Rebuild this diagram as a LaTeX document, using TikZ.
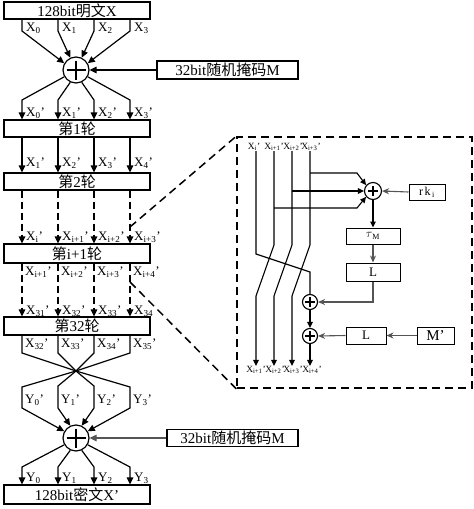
\documentclass[tikz,border=0pt]{standalone}
\usepackage{fontspec}
\setmainfont{Liberation Serif}
\newfontfamily\cjk{Noto Sans CJK SC}
\usetikzlibrary{arrows.meta,calc}
\definecolor{gline}{HTML}{555555}
\begin{document}
\begin{tikzpicture}[x=1pt,y=-1pt,
  box/.style={draw,line width=1.1pt,minimum height=17pt,inner sep=0pt,font=\fontsize{15}{15}\selectfont},
  sbox/.style={draw,line width=1pt,inner sep=0pt},
  ln/.style={line width=1.2pt},
  arr/.style={line width=1.2pt,-{Triangle[length=7pt,width=6.5pt]}},
  darr/.style={arr,dash pattern=on 7pt off 4pt},
  sarr/.style={line width=1.1pt,-{Triangle[length=6pt,width=5.5pt]}},
  garr/.style={line width=1.1pt,draw=gline,-{Stealth[length=7pt,width=6pt]}},
  lab/.style={anchor=west,inner sep=0pt,font=\fontsize{13}{13}\selectfont},
  slab/.style={inner sep=0pt,font=\fontsize{9.5}{9.5}\selectfont},
  bigxor/.style={circle,draw,line width=1.2pt,minimum size=26pt,inner sep=0pt,
    path picture={\draw[line width=2.6pt] ($(path picture bounding box.center)+(-9.5,0)$) -- ++(19,0);
                  \draw[line width=2.6pt] ($(path picture bounding box.center)+(0,-9.5)$) -- ++(0,19);}},
  smxor/.style={circle,draw,line width=1.1pt,minimum size=15pt,inner sep=0pt,
    path picture={\draw[line width=1.1pt] ($(path picture bounding box.center)+(-5,0)$) -- ++(10,0);
                  \draw[line width=1.1pt] ($(path picture bounding box.center)+(0,-5)$) -- ++(0,10);}},
  zdash/.style={line width=1.5pt,dash pattern=on 8pt off 5pt}
]
\useasboundingbox (0,0) rectangle (474,509);
\coordinate (k0) at (22,0);
\coordinate (k1) at (58,0);
\coordinate (k2) at (94,0);
\coordinate (k3) at (130,0);

% boxes
\node[box,minimum width=146pt] (top) at (77,10.5) {128bit{\cjk 明文}X};
\node[bigxor] (c1) at (76,70) {};
\node[box,minimum width=141pt,minimum height=18pt] (m1) at (227.5,70) {32bit{\cjk 随机掩码}M};
\node[box,minimum width=146pt] (r1) at (77,128.5) {{\cjk 第}1{\cjk 轮}};
\node[box,minimum width=146pt] (r2) at (77,181.5) {{\cjk 第}2{\cjk 轮}};
\node[box,minimum width=146pt,minimum height=19pt] (ri) at (77,253.5) {{\cjk 第}i+1{\cjk 轮}};
\node[box,minimum width=146pt,minimum height=18pt] (r32) at (77,326) {{\cjk 第}32{\cjk 轮}};
\node[bigxor] (c2) at (76,438) {};
\node[box,minimum width=131pt,minimum height=17pt] (m2) at (232.5,438) {32bit{\cjk 随机掩码}M};
\node[box,minimum width=146pt,minimum height=19pt] (bot) at (77,494.5) {128bit{\cjk 密文}X'};

% top inputs
\draw[arr] (top.south -| k0) -- (22,31) -- (c1.150);
\draw[arr] (top.south -| k1) -- (58,31) -- (c1.115);
\draw[arr] (top.south -| k2) -- (94,31) -- (c1.65);
\draw[arr] (top.south -| k3) -- (130,31) -- (c1.30);
\node[lab] (t0) at (26,28) {X\textsubscript{0}};
\node[lab] (t1) at (62,28) {X\textsubscript{1}};
\node[lab] (t2) at (98,28) {X\textsubscript{2}};
\node[lab] (t3) at (134,28) {X\textsubscript{3}};
\draw[arr] (m1.west) -- (c1.east);

% outputs of first xor
\draw[arr] (c1.-150) -- (22,100) -- (r1.north -| k0);
\draw[arr] (c1.-115) -- (58,100) -- (r1.north -| k1);
\draw[arr] (c1.-65) -- (94,100) -- (r1.north -| k2);
\draw[arr] (c1.-30) -- (130,100) -- (r1.north -| k3);
\node[lab] at (26,113) {X\textsubscript{0}'};
\node[lab] at (62,113) {X\textsubscript{1}'};
\node[lab] at (98,113) {X\textsubscript{2}'};
\node[lab] at (134,113) {X\textsubscript{3}'};

% round 1 -> round 2
\foreach \k in {k0,k1,k2,k3}{\draw[arr] (r1.south -| \k) -- (r2.north -| \k);}
\node[lab] at (26,163) {X\textsubscript{1}'};
\node[lab] at (62,163) {X\textsubscript{2}'};
\node[lab] at (98,163) {X\textsubscript{3}'};
\node[lab] at (134,163) {X\textsubscript{4}'};

% round 2 -> round i+1
\foreach \k in {k0,k1,k2,k3}{\draw[darr] (r2.south -| \k) -- (ri.north -| \k);}
\node[lab] at (26,237) {X\textsubscript{i}'};
\node[lab] at (62,237) {X\textsubscript{i+1}'};
\node[lab] at (98,237) {X\textsubscript{i+2}'};
\node[lab] at (134,237) {X\textsubscript{i+3}'};

% round i+1 -> round 32
\foreach \k in {k0,k1,k2,k3}{\draw[darr] (ri.south -| \k) -- (r32.north -| \k);}
\node[lab] at (25,272) {X\textsubscript{i+1}'};
\node[lab] at (61,272) {X\textsubscript{i+2}'};
\node[lab] at (97,272) {X\textsubscript{i+3}'};
\node[lab] at (133,272) {X\textsubscript{i+4}'};
\node[lab] at (26,311) {X\textsubscript{31}'};
\node[lab] at (62,311) {X\textsubscript{32}'};
\node[lab] at (98,311) {X\textsubscript{33}'};
\node[lab] at (134,311) {X\textsubscript{34}};

% round 32 -> crossing -> second xor
\coordinate (cross) at (76,371);
\draw[ln] (r32.south -| k0) -- (22,353) -- (cross);
\draw[ln] (r32.south -| k1) -- (58,353) -- (cross);
\draw[ln] (r32.south -| k2) -- (94,353) -- (cross);
\draw[ln] (r32.south -| k3) -- (130,353) -- (cross);
\node[lab] at (25,344) {X\textsubscript{32}'};
\node[lab] at (61,344) {X\textsubscript{33}'};
\node[lab] at (97,344) {X\textsubscript{34}'};
\node[lab] at (133,344) {X\textsubscript{35}'};
\draw[arr] (cross) -- (22,387) -- (22,408) -- (c2.150);
\draw[arr] (cross) -- (58,386) -- (58,408) -- (c2.115);
\draw[arr] (cross) -- (94,386) -- (94,408) -- (c2.65);
\draw[arr] (cross) -- (130,387) -- (130,408) -- (c2.30);
\node[lab] at (25,400) {Y\textsubscript{0}'};
\node[lab] at (61,400) {Y\textsubscript{1}'};
\node[lab] at (97,400) {Y\textsubscript{2}'};
\node[lab] at (133,400) {Y\textsubscript{3}'};
\draw[arr,draw=gline] (m2.west) -- (c2.east);

% outputs
\draw[arr] (c2.-150) -- (22,467) -- (bot.north -| k0);
\draw[arr] (c2.-115) -- (58,467) -- (bot.north -| k1);
\draw[arr] (c2.-65) -- (94,467) -- (bot.north -| k2);
\draw[arr] (c2.-30) -- (130,467) -- (bot.north -| k3);
\node[lab] at (26,478) {Y\textsubscript{0}};
\node[lab] at (62,478) {Y\textsubscript{1}};
\node[lab] at (98,478) {Y\textsubscript{2}};
\node[lab] at (134,478) {Y\textsubscript{3}};

% zoom box
\node[draw,zdash,minimum width=235pt,minimum height=251pt,inner sep=0pt] (zb) at (354.5,262.5) {};
\coordinate (zs1) at (130,227);
\coordinate (zs2) at (130,282);
\draw[zdash] (zs1) -- (zb.north west);
\draw[zdash] (zs2) -- (zb.south west);

% inside
\coordinate (z0) at (256,0);
\coordinate (z1) at (274,0);
\coordinate (z2) at (292,0);
\coordinate (z3) at (310,0);
\node[slab] (li0) at (254,147) {X\textsubscript{i}'};
\node[slab] (li1) at (274,147) {X\textsubscript{i+1}'};
\node[slab] (li2) at (293,147) {X\textsubscript{i+2}'};
\node[slab] (li3) at (311,147) {X\textsubscript{i+3}'};
\node[slab] (lo0) at (256,370) {X\textsubscript{i+1}'};
\node[slab] (lo1) at (275,370) {X\textsubscript{i+2}'};
\node[slab] (lo2) at (293,370) {X\textsubscript{i+3}'};
\node[slab] (lo3) at (312,370) {X\textsubscript{i+4}'};

\node[smxor,minimum size=17pt] (xc) at (373,191) {};
\node[sbox,minimum width=36pt,minimum height=16pt,font=\fontsize{12}{12}\selectfont] (rk) at (427,192) {r\hspace{1.5pt}k\hspace{1.5pt}\textsubscript{i}};
\node[sbox,minimum width=54pt,minimum height=16pt,font=\fontsize{12}{12}\selectfont] (tau) at (373,236) {$\tau_{\,\mathrm{M}}$};
\node[sbox,minimum width=54pt,minimum height=18pt,font=\fontsize{13}{13}\selectfont] (l1) at (373,272) {L};
\node[smxor] (xa) at (310,302) {};
\node[smxor] (xb) at (310,336) {};
\node[sbox,minimum width=40pt,minimum height=17pt,font=\fontsize{13}{13}\selectfont] (l2) at (366,335.5) {L};
\node[sbox,minimum width=37pt,minimum height=17pt,font=\fontsize{15}{15}\selectfont] (mp) at (435.5,335.5) {M'};

\draw[ln] (li0.south -| z0) -- (256,254) -- (310,272) -- (xa.north);
\draw[sarr] (li1.south -| z1) -- (274,245) -- (256,296) -- (lo0.north -| z0);
\draw[sarr] (li2.south -| z2) -- (292,245) -- (274,296) -- (lo1.north -| z1);
\draw[sarr] (li3.south -| z3) -- (310,245) -- (292,296) -- (lo2.north -| z2);
\draw[sarr] (310,173) -- (357,173) -- (xc.140);
\draw[sarr] (292,191) -- (xc.west);
\draw[sarr] (274,208) -- (357,208) -- (xc.-140);
\draw[garr] (rk.west) -- (xc.east);
\draw[sarr] (xc.south) -- (tau.north);
\draw[garr] (tau.south) -- (l1.north);
\draw[garr] (l1.south) -- (373,302) -- (xa.east);
\draw[sarr] (xa.south) -- (xb.north);
\draw[sarr] (xb.south) -- (lo3.north -| z3);
\draw[garr] (mp.west) -- (l2.east);
\draw[garr] (l2.west) -- (xb.east);
\end{tikzpicture}
\end{document}
